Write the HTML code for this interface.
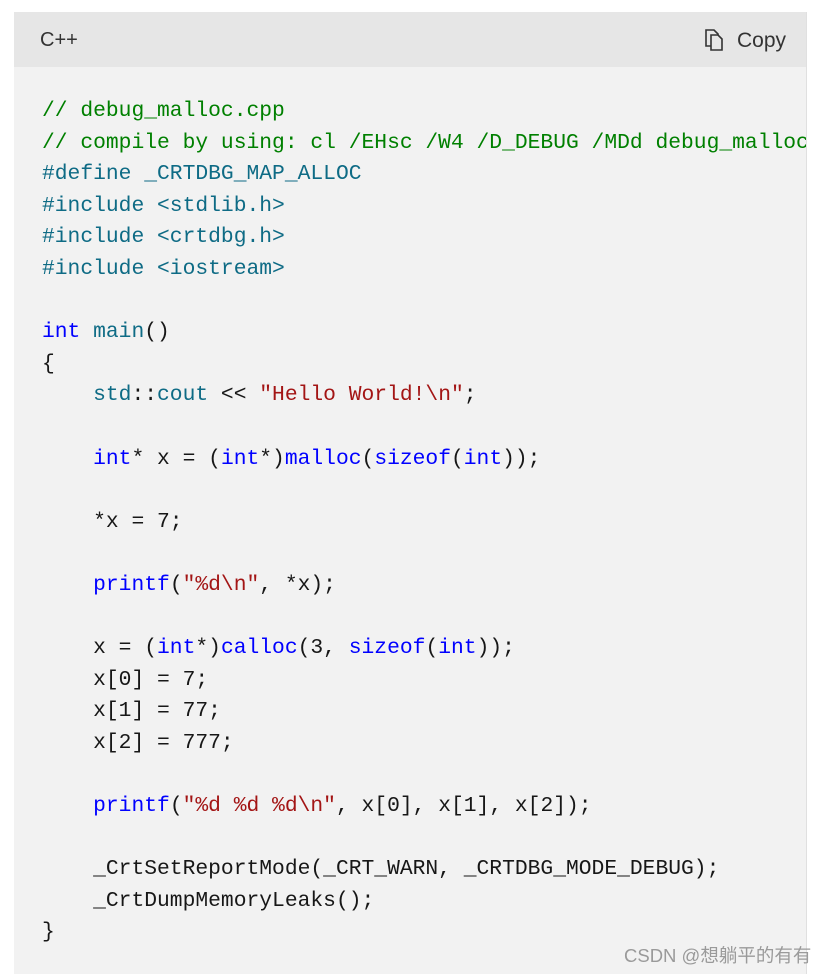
<!DOCTYPE html>
<html><head><meta charset="utf-8"><style>
html,body{margin:0;padding:0;background:#fff;width:830px;height:974px;overflow:hidden;position:relative}
.panel{position:absolute;left:14px;top:12px;width:792px;height:970px;background:#f2f2f2;border-right:1px solid #e0e0e0}
.hdr{position:absolute;left:0;top:0;width:792px;height:55px;background:#e6e6e6;font-family:"Liberation Sans",sans-serif;font-size:20px;color:#333}
.lang{position:absolute;left:26px;top:17px}
.copy{position:absolute;left:723px;top:17px;font-size:21px}
.icon{position:absolute;left:690px;top:16px}
pre{position:absolute;left:28px;top:84px;margin:0;font-family:"Liberation Mono",monospace;font-size:21.3px;line-height:31.6px;color:#171717;white-space:pre;width:764px;overflow:hidden}
.c{color:#008000}.p{color:#0e6b85}.k{color:#0000ff}.s{color:#a31515}.t{color:#0e6b85}
.wm{position:absolute;left:624px;top:942px;font-family:"Liberation Sans","Noto Sans CJK SC",sans-serif;font-size:18.5px;color:#9a9a9a}
</style></head><body>
<div class="panel">
<div class="hdr"><span class="lang">C++</span>
<svg class="icon" width="22" height="24" viewBox="0 0 22 24"><path d="M2 2h8l4 4v12H2z" fill="none" stroke="#333" stroke-width="1.6"/><path d="M7 7h7l4 4v11H7z" fill="#e6e6e6" stroke="#333" stroke-width="1.6"/></svg>
<span class="copy">Copy</span></div>
<pre><span class="c">// debug_malloc.cpp</span>
<span class="c">// compile by using: cl /EHsc /W4 /D_DEBUG /MDd debug_malloc.cpp</span>
<span class="p">#define _CRTDBG_MAP_ALLOC</span>
<span class="p">#include &lt;stdlib.h&gt;</span>
<span class="p">#include &lt;crtdbg.h&gt;</span>
<span class="p">#include &lt;iostream&gt;</span>

<span class="k">int</span> <span class="t">main</span>()
{
    <span class="t">std</span>::<span class="t">cout</span> &lt;&lt; <span class="s">"Hello World!\n"</span>;

    <span class="k">int</span>* x = (<span class="k">int</span>*)<span class="k">malloc</span>(<span class="k">sizeof</span>(<span class="k">int</span>));

    *x = 7;

    <span class="k">printf</span>(<span class="s">"%d\n"</span>, *x);

    x = (<span class="k">int</span>*)<span class="k">calloc</span>(3, <span class="k">sizeof</span>(<span class="k">int</span>));
    x[0] = 7;
    x[1] = 77;
    x[2] = 777;

    <span class="k">printf</span>(<span class="s">"%d %d %d\n"</span>, x[0], x[1], x[2]);

    _CrtSetReportMode(_CRT_WARN, _CRTDBG_MODE_DEBUG);
    _CrtDumpMemoryLeaks();
}</pre>
</div>
<div class="wm">CSDN @想躺平的有有</div>
</body></html>
